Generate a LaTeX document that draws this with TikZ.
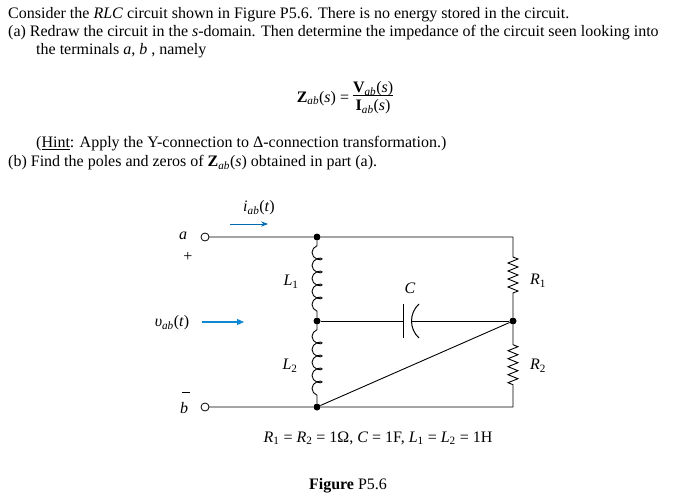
\documentclass[tikz,border=0pt]{standalone}
\usepackage{fontspec}
\setmainfont{Liberation Serif}
\usetikzlibrary{decorations.pathmorphing,arrows.meta}
\newcommand{\sbi}[1]{\textsubscript{\textit{#1}}}
\begin{document}
\begin{tikzpicture}[x=1pt,y=-1pt,font=\fontsize{16}{19}\selectfont,
  wire/.style={line width=0.9pt},
  dotn/.style={circle,fill=black,inner sep=0pt,minimum size=7pt},
  term/.style={circle,draw,line width=0.8pt,inner sep=0pt,minimum size=8pt,fill=white},
  txt/.style={anchor=base west,inner sep=0pt},
  coilw/.style={wire,decorate,decoration={coil,aspect=0.7,segment length=13pt,amplitude=5pt,mirror,pre length=5pt,post length=5pt}},
  resw/.style={wire,decorate,decoration={zigzag,segment length=8pt,amplitude=5pt,pre length=20pt,post length=22pt}},
  bluearr/.style={-{Triangle[length=7pt,width=6pt]},line width=1.2pt}]
\useasboundingbox (0,0) rectangle (698,497);
\node[txt] (t1) at (8,19) {Consider the \textit{RLC} circuit shown in Figure P5.6. There is no energy stored in the circuit.};
\node[txt] (t2) at (8,37) {(a) Redraw the circuit in the \textit{s}-domain. Then determine the impedance of the circuit seen looking into};
\node[txt] (t3) at (36,55) {the terminals \textit{a}, \textit{b} , namely};
\node (eq) at (345,98) {\textbf{Z}\sbi{ab}(\textit{s}) = \begin{tabular}{@{}c@{}}\textbf{V}\sbi{ab}(\textit{s})\\[-3pt]\hline\rule{0pt}{15pt}\textbf{I}\sbi{ab}(\textit{s})\end{tabular}};
\node[txt] (t4) at (36,148) {(\underline{Hint}: Apply the Y-connection to Δ-connection transformation.)};
\node[txt] (t5) at (8,167) {(b) Find the poles and zeros of \textbf{Z}\sbi{ab}(\textit{s}) obtained in part (a).};
% circuit
\coordinate (ar) at (513,237);
\coordinate (br) at (513,407);
\node[dotn] (n1) at (317,237) {};
\node[dotn] (n2) at (317,321) {};
\node[dotn] (n3) at (317,407) {};
\node[dotn] (n4) at (513,321) {};
\coordinate (c1) at (403,321);
\coordinate (c2) at (411,321);
\draw[wire] (205,237) -- (n1) -- (ar) (n4) -- (n3) (br) -- (n3) -- (205,407);
\draw[coilw] (n1) -- (n2);
\draw[coilw] (n2) -- (n3);
\draw[resw] (ar) -- (n4);
\draw[resw] (n4) -- (br);
\draw[white,line width=3pt] (404,315) -- (411,315) -- (411,327) -- (404,327) -- cycle;
\fill[white] (404,314) rectangle (411,328);
\draw[wire] (n2) -- (c1) (c2) -- (n4);
\draw[line width=1pt] (403,304) -- (403,338);
\draw[line width=1pt] (419,304) .. controls (409,313) and (409,329) .. (419,338);
\node[term] (a) at (205,237) {};
\node[term] (b) at (205,407) {};
\node (la) at (183,236) {\textit{a}};
\node (lp) at (188,257) {+};
\node (lb) at (184,408) {\textit{b}};
\node (lm) at (186,392) {\rule{8pt}{0.8pt}};
\node (lv) at (172,323) {\textit{υ}\sbi{ab}(\textit{t})};
\node (li) at (259,208) {\textit{i}\sbi{ab}(\textit{t})};
\draw[bluearr,color=cyan!70!blue] (202,322) -- (244,322);
\draw[-{Stealth[length=7pt]},line width=1pt,color=blue!40!cyan!70!black] (230,224) -- (268,224);
\node (lL1) at (291,282) {\textit{L}\textsubscript{1}};
\node (lL2) at (290,366) {\textit{L}\textsubscript{2}};
\node (lC) at (410,288) {\textit{C}};
\node (lR1) at (538,281) {\textit{R}\textsubscript{1}};
\node (lR2) at (538,366) {\textit{R}\textsubscript{2}};
\node (vals) at (378,438) {\textit{R}\textsubscript{1} = \textit{R}\textsubscript{2} = 1Ω, \textit{C} = 1F, \textit{L}\textsubscript{1} = \textit{L}\textsubscript{2} = 1H};
\node (fig) at (348,486) {\textbf{Figure} P5.6};
\end{tikzpicture}
\end{document}
